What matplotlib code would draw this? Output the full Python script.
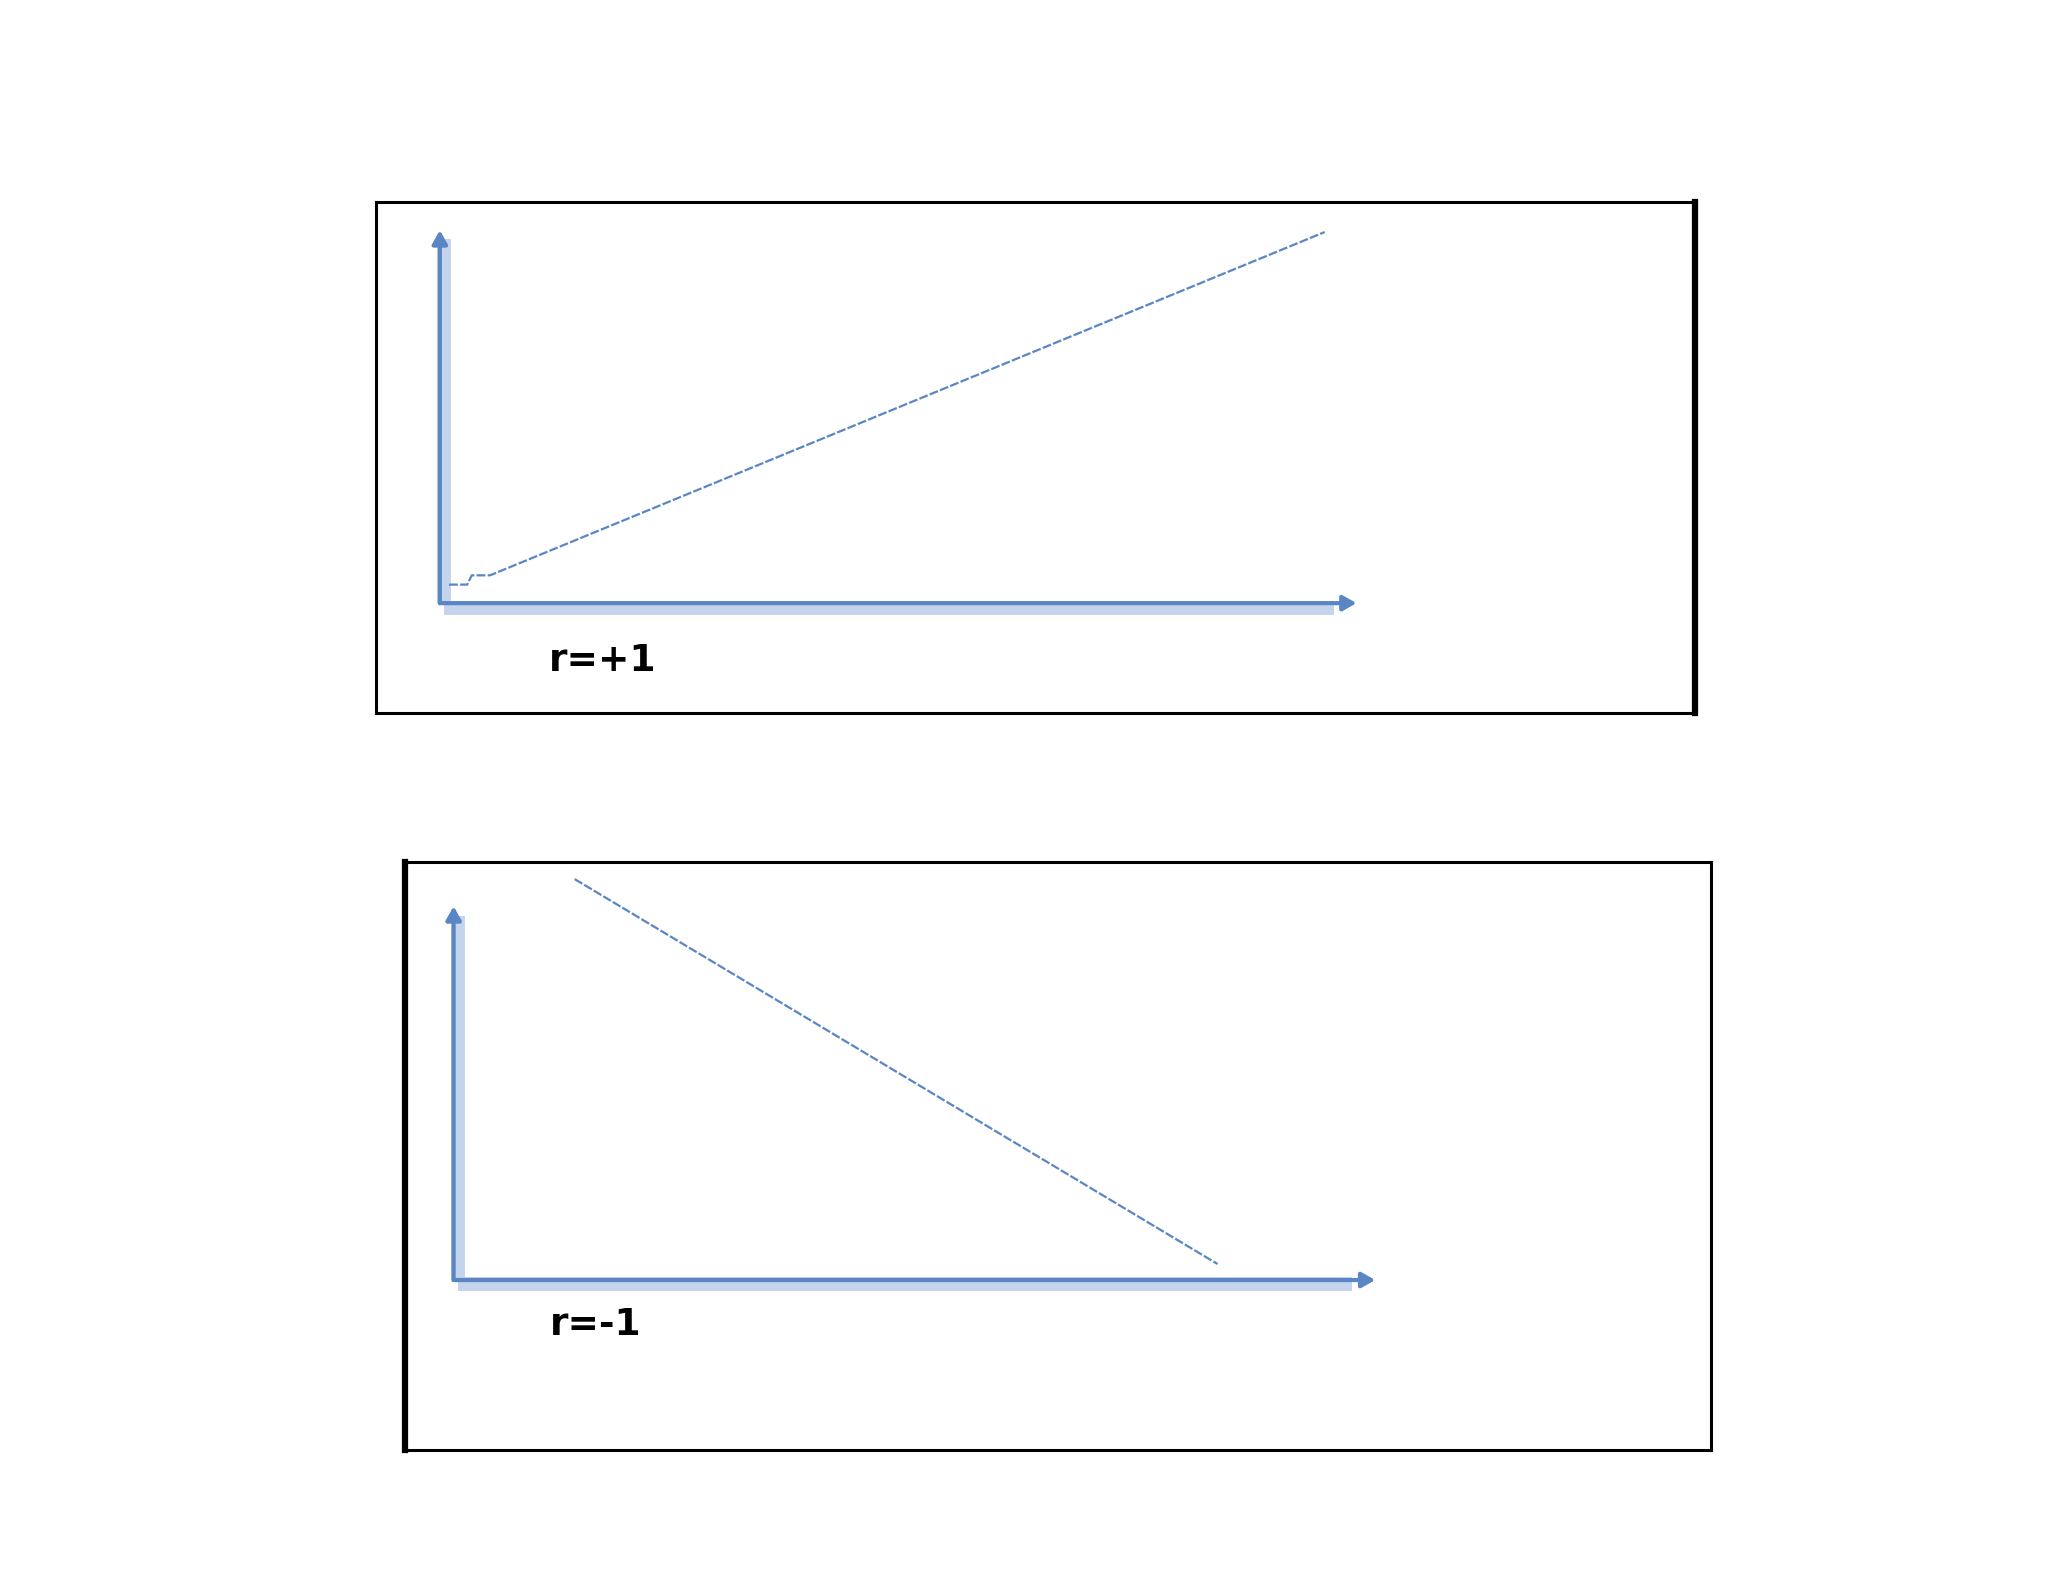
import matplotlib.pyplot as plt

# correlation sketch data (axis origin at 0,0, arrow tips at 10,10)
pos_x = [0.1, 0.3, 0.35, 0.55, 9.7]
pos_y = [0.5, 0.5, 0.75, 0.75, 10.0]
neg_x = [1.32, 8.33]
neg_y = [10.78, 0.43]
labels = ["r=+1", "r=-1"]

W, H = 2048, 1582
fig = plt.figure(figsize=(W / 100, H / 100), dpi=100)

# panel boxes in pixels: left, top, right, bottom; data limits
panels = [
    dict(box=(376, 202, 1695, 713), xlim=(-0.70, 13.76), ylim=(-2.96, 10.81),
         x=pos_x, y=pos_y, label=labels[0], lab=(1.2, -1.55), thick="right"),
    dict(box=(405, 862, 1711, 1450), xlim=(-0.53, 13.71), ylim=(-4.57, 11.24),
         x=neg_x, y=neg_y, label=labels[1], lab=(1.05, -1.2), thick="left"),
]

light = "#c3d4ec"
dark = "#5b86c4"

for p in panels:
    l, t, r, b = p["box"]
    ax = fig.add_axes([l / W, 1 - b / H, (r - l) / W, (b - t) / H])
    ax.set_xlim(*p["xlim"])
    ax.set_ylim(*p["ylim"])
    ax.set_xticks([])
    ax.set_yticks([])
    for name, sp in ax.spines.items():
        sp.set_linewidth(2.2)
        sp.set_color("black")
    ax.spines[p["thick"]].set_linewidth(4.5)

    # axis arrows: pale wide band with a darker core
    ax.plot([0.05, 9.8], [-0.12, -0.12], color=light, lw=10, solid_capstyle="butt", zorder=1)
    ax.plot([0.05, 0.05], [0, 9.8], color=light, lw=10, solid_capstyle="butt", zorder=1)
    ax.annotate("", xy=(10.05, 0), xytext=(0, 0),
                arrowprops=dict(arrowstyle="-|>,head_length=0.8,head_width=0.45",
                                color=dark, lw=3, shrinkA=0, shrinkB=0), zorder=2)
    ax.annotate("", xy=(0, 10.05), xytext=(0, 0),
                arrowprops=dict(arrowstyle="-|>,head_length=0.8,head_width=0.45",
                                color=dark, lw=3, shrinkA=0, shrinkB=0), zorder=2)

    ax.plot(p["x"], p["y"], color=dark, lw=1.6, ls=(0, (4, 1)), zorder=3)
    ax.text(p["lab"][0], p["lab"][1], p["label"], fontsize=27, fontweight="bold",
            color="black", ha="left", va="center")

fig.savefig("out.png", dpi=100)
